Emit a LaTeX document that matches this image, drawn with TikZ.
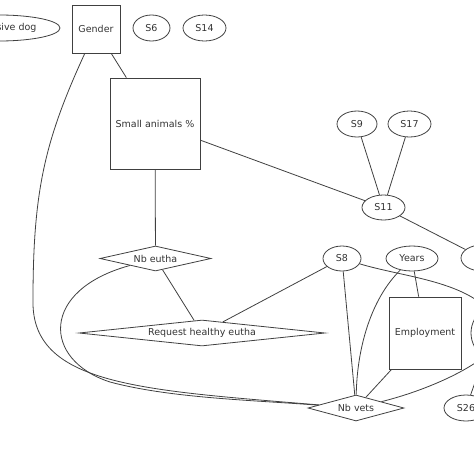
\documentclass[tikz,border=0pt]{standalone}
\usepackage{fontspec}
\setmainfont{DejaVu Sans}
\usetikzlibrary{shapes.geometric}

\begin{document}
\begin{tikzpicture}[x=1pt,y=-1pt,
		every node/.style={font=\fontsize{9.5}{11}\selectfont, text=black!80, inner sep=0pt},
		var/.style={draw=black!75, line width=0.8pt, ellipse, minimum height=26pt},
		box/.style={draw=black!75, line width=0.8pt, rectangle},
		test/.style={draw=black!75, line width=0.8pt, diamond, aspect=4, minimum height=26pt},
		link/.style={draw=black!75, line width=0.8pt}
			]
	\useasboundingbox (0,0) rectangle (474,474);

	% top row
	\node[var, minimum width=122pt] (dog) at (-1,28) {\hspace*{35pt}sive dog};
	\node[box, minimum size=48pt] (gender) at (96,29) {Gender};
	\node[var, minimum width=37pt] (s6) at (151.5,28) {S6};
	\node[var, minimum width=43pt] (s14) at (204.5,28) {S14};

	\node[box, minimum width=90pt, minimum height=91pt] (small) at (155,123.5) {Small animals \%};
	\node[var, minimum width=40pt] (s9) at (357,124) {S9};
	\node[var, minimum width=43pt] (s17) at (409.5,124) {S17};
	\node[var, minimum width=43pt, minimum height=25pt] (s11) at (383.5,207.5) {S11};

	% middle row
	\node[test, minimum width=111pt, minimum height=25pt] (eutha) at (155.5,258.5) {Nb eutha};
	\node[var, minimum width=38pt, minimum height=25pt] (s8) at (342,258.5) {S8};
	\node[var, minimum width=52pt, minimum height=25pt] (years) at (412,258.5) {Years};
	\node[var, minimum width=42pt] (sright) at (482,258) {};

	\node[test, aspect=9.5, minimum width=246pt] (request) at (202,333) {Request healthy eutha};
	\node[box, minimum size=72pt] (employ) at (425,333) {Employment};
	\node[var, minimum width=88pt, minimum height=70pt] (eright) at (515,333) {};

	% bottom row
	\node[test, minimum width=96pt] (vets) at (356,408) {Nb vets};
	\node[var, minimum width=44pt] (s26) at (466,408) {S26};

	% links
	\path[link] (gender) -- (small);
	\path[link] (small) -- (eutha);
	\path[link] (small) -- (s11);
	\path[link] (s9) -- (s11);
	\path[link] (s17) -- (s11);
	\path[link] (s11) -- (sright);
	\path[link] (eutha) -- (request);
	\path[link] (s8) -- (request);
	\path[link] (s8) -- (vets);
	\path[link] (years) -- (employ);
	\path[link] (employ) -- (vets);
	\path[link] (s26) -- (eright.south west);
	\path[link] (years) .. controls (370,300) and (357,350) .. (vets);
	\path[link] (s8) .. controls (400,276) and (455,280) .. (eright);
	\path[link] (vets) .. controls (420,392) and (460,375) .. (eright);
	\path[link] (gender) .. controls (45,140) and (33,190) .. (33,300)
		.. controls (31,385) and (140,390) .. (vets);
	\path[link] (eutha) .. controls (40,290) and (42,360) .. (110,382)
		.. controls (170,398) and (250,400) .. (vets);
\end{tikzpicture}
\end{document}
